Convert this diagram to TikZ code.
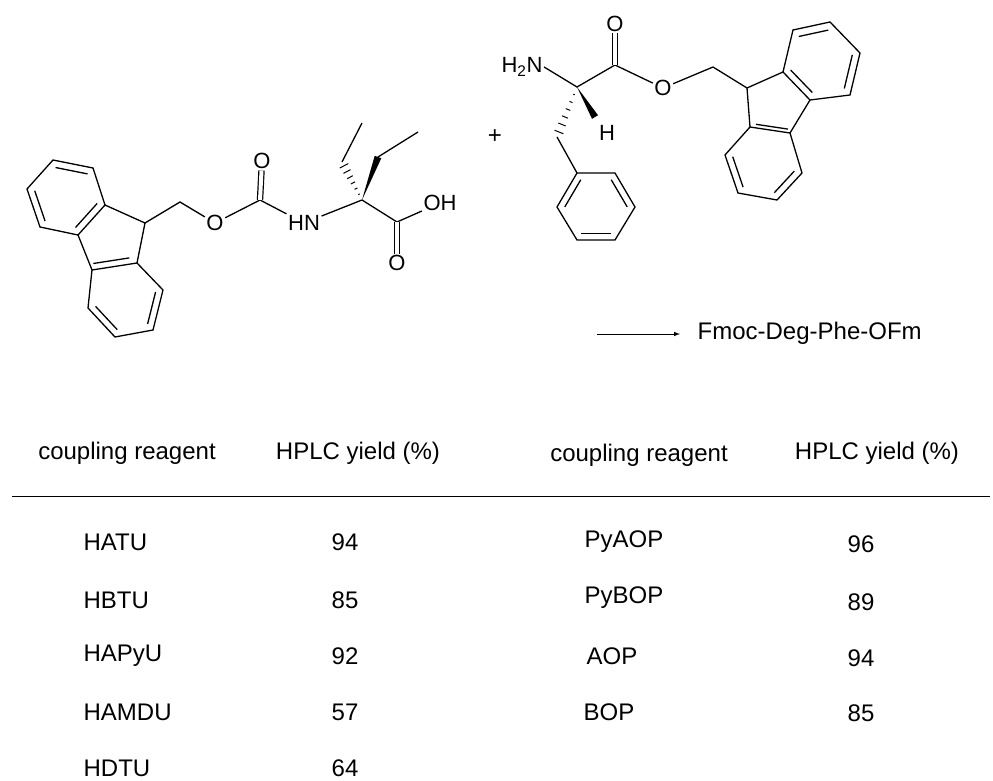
\documentclass[tikz,border=0pt]{standalone}
\usepackage{fontspec}
\setmainfont{Liberation Sans}
\usetikzlibrary{calc}
\begin{document}
\begin{tikzpicture}[x=1pt,y=-1pt,line width=1.3pt,
 atom/.style={inner sep=1pt,font=\fontsize{22}{24}\selectfont},
 txt/.style={inner sep=0pt,font=\fontsize{24}{28}\selectfont},
 dbl/.style={double,double distance=4pt,line width=1.2pt}]
\useasboundingbox (0,0) rectangle (993,781);
\newcommand\inner[3]{\draw ($(#1)!0.2!(#3)$) -- ($(#2)!0.2!(#3)$);}
% ---------- left molecule
\foreach \n/\x/\y in {a1/53/160,a2/93/168,a3/105/205,a4/78/235,a5/40/227,a6/27/189,
  c9/145/223,b1/137/263,b2/163/290,b3/153/330,b4/115/337,b5/88/308,b6/92/270,
  ch2/180/202,cc/260/200,cq/362/200,h1/342/162,h2/362/123,w1/378/157,w2/418/132,ca/397/222}
  \coordinate (\n) at (\x,\y);
\coordinate (r1) at ($(a1)!0.5!(a4)$);
\coordinate (r2) at ($(b1)!0.5!(b4)$);
\coordinate (r5) at ($(a3)!0.5!(b6)$);
\draw (a1)--(a2)--(a3)--(a4)--(a5)--(a6)--cycle;
\draw (b1)--(b2)--(b3)--(b4)--(b5)--(b6)--cycle;
\draw (a3)--(c9)--(b1); \draw (a4)--(b6);
\inner{a1}{a2}{r1}\inner{a3}{a4}{r1}\inner{a5}{a6}{r1}
\inner{b2}{b3}{r2}\inner{b4}{b5}{r2}\inner{b1}{b6}{r5}
\node[atom] (o1) at (215,223) {O};
\node[atom] (o2) at (262,161) {O};
\node[atom] (hn) at (304,223) {HN};
\node[atom] (oh) at (440,203) {OH};
\node[atom] (o3) at (397,263) {O};
\draw (c9)--(ch2)--(o1)--(cc)--(hn)--(cq)--(ca)--(oh);
\draw[dbl] (cc)--(o2);
\draw[dbl] (ca)--(o3);
\draw (h1)--(h2); \draw (w1)--(w2);
\foreach \t/\w in {0.15/0.8,0.3/1.6,0.45/2.4,0.6/3.2,0.75/4,0.9/4.8}{
  \path (cq) -- (h1) coordinate[pos=\t] (p);
  \draw[line width=1pt] ($(p)!\w pt!90:(h1)$) -- ($(p)!\w pt!-90:(h1)$);}
\fill (cq) -- ($(w1)!3.5pt!90:(cq)$) -- ($(w1)!3.5pt!-90:(cq)$) -- cycle;
% ---------- plus
\node[txt] (plus) at (495,137) {+};
% ---------- right molecule
\foreach \n/\x/\y in {ca2/577/87,cc2/615/65,ch22/713/67,d9/747/88,
  u1/783/72,u2/793/30,u3/830/22,u4/860/53,u5/850/95,u6/810/100,
  l1/750/127,l2/790/133,l3/802/173,l4/777/200,l5/738/193,l6/725/155,
  hw/595/117,hs/557/137,p1/577/173,p2/615/173,p3/635/207,p4/615/240,p5/577/240,p6/557/207}
  \coordinate (\n) at (\x,\y);
\coordinate (q1) at ($(u1)!0.5!(u4)$);
\coordinate (q2) at ($(l1)!0.5!(l4)$);
\coordinate (q5) at ($(u6)!0.5!(l1)$);
\coordinate (q3) at ($(p1)!0.5!(p4)$);
\draw (u1)--(u2)--(u3)--(u4)--(u5)--(u6)--cycle;
\draw (l1)--(l2)--(l3)--(l4)--(l5)--(l6)--cycle;
\draw (u1)--(d9)--(l1); \draw (u6)--(l2);
\inner{u2}{u3}{q1}\inner{u4}{u5}{q1}\inner{u6}{u1}{q1}
\inner{l3}{l4}{q2}\inner{l5}{l6}{q2}\inner{l1}{l2}{q5}
\draw (p1)--(p2)--(p3)--(p4)--(p5)--(p6)--cycle;
\inner{p2}{p3}{q3}\inner{p4}{p5}{q3}\inner{p6}{p1}{q3}
\node[atom] (n2) at (522,67) {H\textsubscript{2}N};
\node[atom] (o4) at (615,24) {O};
\node[atom] (o5) at (663,88) {O};
\node[atom] (hh) at (607,133) {H};
\draw (n2.east)--(ca2)--(cc2)--(o5)--(ch22)--(d9);
\draw[dbl] (cc2)--(o4);
\draw (hs)--(p1);
\foreach \t/\w in {0.15/0.8,0.3/1.6,0.45/2.4,0.6/3.2,0.75/4,0.9/4.8}{
  \path (ca2) -- (hs) coordinate[pos=\t] (p);
  \draw[line width=1pt] ($(p)!\w pt!90:(hs)$) -- ($(p)!\w pt!-90:(hs)$);}
\fill (ca2) -- ($(hw)!3.5pt!90:(ca2)$) -- ($(hw)!3.5pt!-90:(ca2)$) -- cycle;
% ---------- arrow and product
\coordinate (ar1) at (597,334);
\node[txt,anchor=west] (prod) at (697,333) {Fmoc-Deg-Phe-OFm};
\draw[-latex,line width=1pt] (ar1) -- (680,334) coordinate (ar2);
% ---------- table
\node[txt] (h1t) at (127,453) {coupling reagent};
\node[txt] (h2t) at (358,453) {HPLC yield (\%)};
\node[txt] (h3t) at (639,455) {coupling reagent};
\node[txt] (h4t) at (877,453) {HPLC yield (\%)};
\coordinate (tl) at (12,496); \coordinate (tr) at (990,496);
\draw[line width=0.9pt] (tl) -- (tr);
\foreach \nm/\y/\v [count=\i] in {HATU/542/94,HBTU/600/85,HAPyU/656/92,HAMDU/712/57,HDTU/768/64}{
  \node[txt,anchor=west] (ln\i) at (83,\y) {\nm};
  \node[txt] (lv\i) at (345,\y) {\v};}
\foreach \nm/\x/\y/\v/\vy [count=\i] in {PyAOP/584/542/96/544,PyBOP/584/598/89/602,AOP/586/656/94/658,BOP/583/712/85/713}{
  \node[txt,anchor=west] (rn\i) at (\x,\y) {\nm};
  \node[txt] (rv\i) at (861,\vy) {\v};}
\end{tikzpicture}
\end{document}
